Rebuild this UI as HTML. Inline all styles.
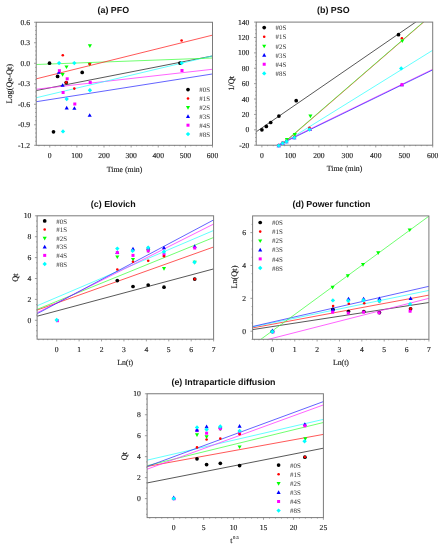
<!DOCTYPE html><html><head><meta charset="utf-8"><style>html,body{margin:0;padding:0;background:#fff;}svg{display:block;filter:blur(0.35px);text-rendering:geometricPrecision;}</style></head><body>
<svg width="445" height="550" viewBox="0 0 445 550">
<rect width="445" height="550" fill="#fff"/>
<clipPath id="clipa"><rect x="36.2" y="22.25" width="176.3" height="123.05000000000001"/></clipPath>
<g clip-path="url(#clipa)" stroke-width="0.75" fill="none">
<line x1="31.20" y1="91.52" x2="217.50" y2="54.98" stroke="#202020"/>
<line x1="31.20" y1="89.79" x2="217.50" y2="68.71" stroke="#ff30ff"/>
<line x1="31.20" y1="98.94" x2="217.50" y2="54.66" stroke="#30ffff"/>
<line x1="31.20" y1="102.52" x2="217.50" y2="73.18" stroke="#3030ff"/>
<line x1="31.20" y1="64.69" x2="217.50" y2="57.81" stroke="#40ff40"/>
<line x1="31.20" y1="80.09" x2="217.50" y2="33.91" stroke="#ff2020"/>
</g>
<rect x="36.2" y="22.25" width="176.3" height="123.05000000000001" fill="none" stroke="#7a7a7a" stroke-width="1.0"/>
<path d="M49.76,145.3 v2.2 M76.88,145.3 v2.2 M104.01,145.3 v2.2 M131.13,145.3 v2.2 M158.25,145.3 v2.2 M185.38,145.3 v2.2 M212.50,145.3 v2.2 M38.91,145.3 v1.0 M44.34,145.3 v1.0 M55.19,145.3 v1.0 M60.61,145.3 v1.0 M66.04,145.3 v1.0 M71.46,145.3 v1.0 M82.31,145.3 v1.0 M87.73,145.3 v1.0 M93.16,145.3 v1.0 M98.58,145.3 v1.0 M109.43,145.3 v1.0 M114.86,145.3 v1.0 M120.28,145.3 v1.0 M125.71,145.3 v1.0 M136.56,145.3 v1.0 M141.98,145.3 v1.0 M147.40,145.3 v1.0 M152.83,145.3 v1.0 M163.68,145.3 v1.0 M169.10,145.3 v1.0 M174.53,145.3 v1.0 M179.95,145.3 v1.0 M190.80,145.3 v1.0 M196.23,145.3 v1.0 M201.65,145.3 v1.0 M207.08,145.3 v1.0 M36.2,22.25 h-2.2 M36.2,42.76 h-2.2 M36.2,63.27 h-2.2 M36.2,83.78 h-2.2 M36.2,104.28 h-2.2 M36.2,124.79 h-2.2 M36.2,145.30 h-2.2 M36.2,26.35 h-1.0 M36.2,30.45 h-1.0 M36.2,34.55 h-1.0 M36.2,38.66 h-1.0 M36.2,46.86 h-1.0 M36.2,50.96 h-1.0 M36.2,55.06 h-1.0 M36.2,59.17 h-1.0 M36.2,67.37 h-1.0 M36.2,71.47 h-1.0 M36.2,75.57 h-1.0 M36.2,79.67 h-1.0 M36.2,87.88 h-1.0 M36.2,91.98 h-1.0 M36.2,96.08 h-1.0 M36.2,100.18 h-1.0 M36.2,108.39 h-1.0 M36.2,112.49 h-1.0 M36.2,116.59 h-1.0 M36.2,120.69 h-1.0 M36.2,128.89 h-1.0 M36.2,133.00 h-1.0 M36.2,137.10 h-1.0 M36.2,141.20 h-1.0" stroke="#7a7a7a" stroke-width="0.7" fill="none"/>
<g font-family='"Liberation Serif", serif' font-size="7.6" fill="#222" stroke="#222" stroke-width="0.15">
<text x="49.76" y="158.10" text-anchor="middle">0</text>
<text x="76.88" y="158.10" text-anchor="middle">100</text>
<text x="104.01" y="158.10" text-anchor="middle">200</text>
<text x="131.13" y="158.10" text-anchor="middle">300</text>
<text x="158.25" y="158.10" text-anchor="middle">400</text>
<text x="185.38" y="158.10" text-anchor="middle">500</text>
<text x="212.50" y="158.10" text-anchor="middle">600</text>
<text x="30.00" y="24.85" text-anchor="end">0.6</text>
<text x="30.00" y="45.36" text-anchor="end">0.3</text>
<text x="30.00" y="65.87" text-anchor="end">0.0</text>
<text x="30.00" y="86.38" text-anchor="end">-0.3</text>
<text x="30.00" y="106.88" text-anchor="end">-0.6</text>
<text x="30.00" y="127.39" text-anchor="end">-0.9</text>
<text x="30.00" y="147.90" text-anchor="end">-1.2</text>
</g>
<text x="124.60" y="171.50" text-anchor="middle" font-family='"Liberation Serif", serif' font-size="7.8" fill="#222" stroke="#222" stroke-width="0.15">Time (min)</text>
<text transform="translate(12.20,83.80) rotate(-90)" text-anchor="middle" font-family='"Liberation Serif", serif' font-size="8.3" fill="#222" stroke="#222" stroke-width="0.15">Log(Qe-Qt)</text>
<text x="113.30" y="13.00" text-anchor="middle" font-family='"Liberation Sans", sans-serif' font-weight="bold" font-size="8.9" fill="#111">(a) PFO</text>
<g>
<circle cx="49.50" cy="63.20" r="1.85" fill="#000000"/>
<circle cx="53.50" cy="131.80" r="1.85" fill="#000000"/>
<circle cx="57.60" cy="76.40" r="1.85" fill="#000000"/>
<circle cx="66.20" cy="82.60" r="1.85" fill="#000000"/>
<circle cx="82.20" cy="72.40" r="1.85" fill="#000000"/>
<circle cx="180.00" cy="63.10" r="1.85" fill="#000000"/>
<path d="M56.85,73.84 L60.95,73.84 L58.90,70.15 Z" fill="#0000ff"/>
<path d="M60.55,86.84 L64.65,86.84 L62.60,83.15 Z" fill="#0000ff"/>
<path d="M64.65,109.44 L68.75,109.44 L66.70,105.75 Z" fill="#0000ff"/>
<path d="M72.35,109.84 L76.45,109.84 L74.40,106.15 Z" fill="#0000ff"/>
<path d="M87.65,116.84 L91.75,116.84 L89.70,113.15 Z" fill="#0000ff"/>
<path d="M60.55,73.01 L64.65,73.01 L62.60,76.70 Z" fill="#00ff00"/>
<path d="M64.45,65.41 L68.55,65.41 L66.50,69.10 Z" fill="#00ff00"/>
<path d="M87.85,44.31 L91.95,44.31 L89.90,48.00 Z" fill="#00ff00"/>
<path d="M87.65,62.71 L91.75,62.71 L89.70,66.40 Z" fill="#00ff00"/>
<rect x="57.90" y="69.20" width="3.00" height="3.00" fill="#ff00ff"/>
<rect x="65.70" y="77.30" width="3.00" height="3.00" fill="#ff00ff"/>
<rect x="61.60" y="91.00" width="3.00" height="3.00" fill="#ff00ff"/>
<rect x="73.30" y="102.50" width="3.00" height="3.00" fill="#ff00ff"/>
<rect x="88.70" y="80.90" width="3.00" height="3.00" fill="#ff00ff"/>
<rect x="180.50" y="69.00" width="3.00" height="3.00" fill="#ff00ff"/>
<path d="M59.10,60.90 L61.30,63.10 L59.10,65.30 L56.90,63.10 Z" fill="#00ffff"/>
<path d="M74.30,60.90 L76.50,63.10 L74.30,65.30 L72.10,63.10 Z" fill="#00ffff"/>
<path d="M63.00,129.20 L65.20,131.40 L63.00,133.60 L60.80,131.40 Z" fill="#00ffff"/>
<path d="M66.70,96.80 L68.90,99.00 L66.70,101.20 L64.50,99.00 Z" fill="#00ffff"/>
<path d="M89.90,88.00 L92.10,90.20 L89.90,92.40 L87.70,90.20 Z" fill="#00ffff"/>
<path d="M181.60,60.90 L183.80,63.10 L181.60,65.30 L179.40,63.10 Z" fill="#00ffff"/>
<circle cx="62.80" cy="55.30" r="1.30" fill="#ff0000"/>
<circle cx="89.70" cy="64.00" r="1.30" fill="#ff0000"/>
<circle cx="66.20" cy="82.40" r="1.30" fill="#ff0000"/>
<circle cx="74.30" cy="88.60" r="1.30" fill="#ff0000"/>
<circle cx="181.60" cy="40.50" r="1.30" fill="#ff0000"/>
</g>
<circle cx="188.00" cy="89.60" r="1.85" fill="#000000"/>
<text transform="translate(199.30,92.20) scale(0.25)" font-family='"Liberation Serif", serif' font-size="27.60" fill="#333">#0S</text>
<circle cx="188.00" cy="98.50" r="1.30" fill="#ff0000"/>
<text transform="translate(199.30,101.10) scale(0.25)" font-family='"Liberation Serif", serif' font-size="27.60" fill="#333">#1S</text>
<path d="M185.95,106.11 L190.05,106.11 L188.00,109.80 Z" fill="#00ff00"/>
<text transform="translate(199.30,110.00) scale(0.25)" font-family='"Liberation Serif", serif' font-size="27.60" fill="#333">#2S</text>
<path d="M185.95,117.94 L190.05,117.94 L188.00,114.25 Z" fill="#0000ff"/>
<text transform="translate(199.30,118.90) scale(0.25)" font-family='"Liberation Serif", serif' font-size="27.60" fill="#333">#3S</text>
<rect x="186.50" y="123.70" width="3.00" height="3.00" fill="#ff00ff"/>
<text transform="translate(199.30,127.80) scale(0.25)" font-family='"Liberation Serif", serif' font-size="27.60" fill="#333">#4S</text>
<path d="M188.00,131.90 L190.20,134.10 L188.00,136.30 L185.80,134.10 Z" fill="#00ffff"/>
<text transform="translate(199.30,136.70) scale(0.25)" font-family='"Liberation Serif", serif' font-size="27.60" fill="#333">#8S</text>
<clipPath id="clipb"><rect x="256.2" y="22.1" width="176.5" height="123.1"/></clipPath>
<g clip-path="url(#clipb)" stroke-width="0.75" fill="none">
<line x1="251.20" y1="135.25" x2="437.70" y2="6.97" stroke="#202020"/>
<line x1="251.20" y1="162.87" x2="437.70" y2="47.17" stroke="#30ffff"/>
<line x1="251.20" y1="157.74" x2="437.70" y2="66.87" stroke="#ff30ff"/>
<line x1="251.20" y1="158.34" x2="437.70" y2="67.47" stroke="#3030ff"/>
<line x1="251.20" y1="171.24" x2="437.70" y2="9.90" stroke="#ff2020"/>
<line x1="251.20" y1="170.76" x2="437.70" y2="9.57" stroke="#40ff40"/>
</g>
<rect x="256.2" y="22.1" width="176.5" height="123.1" fill="none" stroke="#7a7a7a" stroke-width="1.0"/>
<path d="M261.89,145.2 v2.2 M290.36,145.2 v2.2 M318.83,145.2 v2.2 M347.30,145.2 v2.2 M375.76,145.2 v2.2 M404.23,145.2 v2.2 M432.70,145.2 v2.2 M267.59,145.2 v1.0 M273.28,145.2 v1.0 M278.97,145.2 v1.0 M284.67,145.2 v1.0 M296.05,145.2 v1.0 M301.75,145.2 v1.0 M307.44,145.2 v1.0 M313.14,145.2 v1.0 M324.52,145.2 v1.0 M330.22,145.2 v1.0 M335.91,145.2 v1.0 M341.60,145.2 v1.0 M352.99,145.2 v1.0 M358.68,145.2 v1.0 M364.38,145.2 v1.0 M370.07,145.2 v1.0 M381.46,145.2 v1.0 M387.15,145.2 v1.0 M392.85,145.2 v1.0 M398.54,145.2 v1.0 M409.93,145.2 v1.0 M415.62,145.2 v1.0 M421.31,145.2 v1.0 M427.01,145.2 v1.0 M256.2,22.10 h-2.2 M256.2,37.49 h-2.2 M256.2,52.88 h-2.2 M256.2,68.26 h-2.2 M256.2,83.65 h-2.2 M256.2,99.04 h-2.2 M256.2,114.43 h-2.2 M256.2,129.81 h-2.2 M256.2,145.20 h-2.2 M256.2,25.95 h-1.0 M256.2,29.79 h-1.0 M256.2,33.64 h-1.0 M256.2,41.33 h-1.0 M256.2,45.18 h-1.0 M256.2,49.03 h-1.0 M256.2,56.72 h-1.0 M256.2,60.57 h-1.0 M256.2,64.42 h-1.0 M256.2,72.11 h-1.0 M256.2,75.96 h-1.0 M256.2,79.80 h-1.0 M256.2,87.50 h-1.0 M256.2,91.34 h-1.0 M256.2,95.19 h-1.0 M256.2,102.88 h-1.0 M256.2,106.73 h-1.0 M256.2,110.58 h-1.0 M256.2,118.27 h-1.0 M256.2,122.12 h-1.0 M256.2,125.97 h-1.0 M256.2,133.66 h-1.0 M256.2,137.51 h-1.0 M256.2,141.35 h-1.0" stroke="#7a7a7a" stroke-width="0.7" fill="none"/>
<g font-family='"Liberation Serif", serif' font-size="7.6" fill="#222" stroke="#222" stroke-width="0.15">
<text x="261.89" y="158.00" text-anchor="middle">0</text>
<text x="290.36" y="158.00" text-anchor="middle">100</text>
<text x="318.83" y="158.00" text-anchor="middle">200</text>
<text x="347.30" y="158.00" text-anchor="middle">300</text>
<text x="375.76" y="158.00" text-anchor="middle">400</text>
<text x="404.23" y="158.00" text-anchor="middle">500</text>
<text x="432.70" y="158.00" text-anchor="middle">600</text>
<text x="249.40" y="24.70" text-anchor="end">140</text>
<text x="249.40" y="40.09" text-anchor="end">120</text>
<text x="249.40" y="55.48" text-anchor="end">100</text>
<text x="249.40" y="70.86" text-anchor="end">80</text>
<text x="249.40" y="86.25" text-anchor="end">60</text>
<text x="249.40" y="101.64" text-anchor="end">40</text>
<text x="249.40" y="117.03" text-anchor="end">20</text>
<text x="249.40" y="132.41" text-anchor="end">0</text>
<text x="249.40" y="147.80" text-anchor="end">-20</text>
</g>
<text x="344.60" y="171.30" text-anchor="middle" font-family='"Liberation Serif", serif' font-size="7.8" fill="#222" stroke="#222" stroke-width="0.15">Time (min)</text>
<text transform="translate(233.60,83.40) rotate(-90)" text-anchor="middle" font-family='"Liberation Serif", serif' font-size="8.3" fill="#222" stroke="#222" stroke-width="0.15">1/Qt</text>
<text x="333.30" y="13.00" text-anchor="middle" font-family='"Liberation Sans", sans-serif' font-weight="bold" font-size="8.9" fill="#111">(b) PSO</text>
<g>
<circle cx="261.90" cy="129.80" r="1.85" fill="#000000"/>
<circle cx="266.30" cy="126.40" r="1.85" fill="#000000"/>
<circle cx="270.70" cy="122.50" r="1.85" fill="#000000"/>
<circle cx="278.90" cy="116.10" r="1.85" fill="#000000"/>
<circle cx="296.20" cy="100.70" r="1.85" fill="#000000"/>
<circle cx="398.50" cy="34.70" r="1.85" fill="#000000"/>
<path d="M276.65,147.24 L280.75,147.24 L278.70,143.55 Z" fill="#0000ff"/>
<path d="M280.55,144.94 L284.65,144.94 L282.60,141.25 Z" fill="#0000ff"/>
<path d="M284.45,143.14 L288.55,143.14 L286.50,139.45 Z" fill="#0000ff"/>
<path d="M292.35,139.24 L296.45,139.24 L294.40,135.55 Z" fill="#0000ff"/>
<path d="M307.75,131.04 L311.85,131.04 L309.80,127.35 Z" fill="#0000ff"/>
<path d="M399.85,86.34 L403.95,86.34 L401.90,82.65 Z" fill="#0000ff"/>
<rect x="277.20" y="144.10" width="3.00" height="3.00" fill="#ff00ff"/>
<rect x="281.10" y="141.80" width="3.00" height="3.00" fill="#ff00ff"/>
<rect x="285.00" y="140.00" width="3.00" height="3.00" fill="#ff00ff"/>
<rect x="292.90" y="136.10" width="3.00" height="3.00" fill="#ff00ff"/>
<rect x="308.30" y="127.90" width="3.00" height="3.00" fill="#ff00ff"/>
<rect x="400.40" y="83.20" width="3.00" height="3.00" fill="#ff00ff"/>
<circle cx="278.70" cy="145.00" r="1.30" fill="#ff0000"/>
<circle cx="282.60" cy="142.60" r="1.30" fill="#ff0000"/>
<circle cx="286.50" cy="140.50" r="1.30" fill="#ff0000"/>
<circle cx="294.40" cy="136.50" r="1.30" fill="#ff0000"/>
<circle cx="309.50" cy="127.80" r="1.30" fill="#ff0000"/>
<circle cx="401.90" cy="38.30" r="1.30" fill="#ff0000"/>
<path d="M284.85,137.91 L288.95,137.91 L286.90,141.60 Z" fill="#00ff00"/>
<path d="M292.75,133.11 L296.85,133.11 L294.80,136.80 Z" fill="#00ff00"/>
<path d="M308.35,114.61 L312.45,114.61 L310.40,118.30 Z" fill="#00ff00"/>
<path d="M400.25,39.41 L404.35,39.41 L402.30,43.10 Z" fill="#00ff00"/>
<path d="M278.70,143.40 L280.90,145.60 L278.70,147.80 L276.50,145.60 Z" fill="#00ffff"/>
<path d="M282.60,141.10 L284.80,143.30 L282.60,145.50 L280.40,143.30 Z" fill="#00ffff"/>
<path d="M286.50,139.30 L288.70,141.50 L286.50,143.70 L284.30,141.50 Z" fill="#00ffff"/>
<path d="M294.40,135.40 L296.60,137.60 L294.40,139.80 L292.20,137.60 Z" fill="#00ffff"/>
<path d="M309.50,127.40 L311.70,129.60 L309.50,131.80 L307.30,129.60 Z" fill="#00ffff"/>
<path d="M401.20,66.20 L403.40,68.40 L401.20,70.60 L399.00,68.40 Z" fill="#00ffff"/>
</g>
<circle cx="264.20" cy="27.60" r="1.85" fill="#000000"/>
<text transform="translate(275.60,30.20) scale(0.25)" font-family='"Liberation Serif", serif' font-size="27.60" fill="#333">#0S</text>
<circle cx="264.20" cy="36.76" r="1.30" fill="#ff0000"/>
<text transform="translate(275.60,39.36) scale(0.25)" font-family='"Liberation Serif", serif' font-size="27.60" fill="#333">#1S</text>
<path d="M262.15,44.63 L266.25,44.63 L264.20,48.32 Z" fill="#00ff00"/>
<text transform="translate(275.60,48.52) scale(0.25)" font-family='"Liberation Serif", serif' font-size="27.60" fill="#333">#2S</text>
<path d="M262.15,56.72 L266.25,56.72 L264.20,53.03 Z" fill="#0000ff"/>
<text transform="translate(275.60,57.68) scale(0.25)" font-family='"Liberation Serif", serif' font-size="27.60" fill="#333">#3S</text>
<rect x="262.70" y="62.74" width="3.00" height="3.00" fill="#ff00ff"/>
<text transform="translate(275.60,66.84) scale(0.25)" font-family='"Liberation Serif", serif' font-size="27.60" fill="#333">#4S</text>
<path d="M264.20,71.20 L266.40,73.40 L264.20,75.60 L262.00,73.40 Z" fill="#00ffff"/>
<text transform="translate(275.60,76.00) scale(0.25)" font-family='"Liberation Serif", serif' font-size="27.60" fill="#333">#8S</text>
<clipPath id="clipc"><rect x="37.1" y="215.8" width="176.5" height="123.39999999999998"/></clipPath>
<g clip-path="url(#clipc)" stroke-width="0.75" fill="none">
<line x1="32.10" y1="317.56" x2="218.60" y2="267.58" stroke="#202020"/>
<line x1="32.10" y1="311.88" x2="218.60" y2="245.21" stroke="#ff2020"/>
<line x1="32.10" y1="311.41" x2="218.60" y2="235.44" stroke="#40ff40"/>
<line x1="32.10" y1="307.91" x2="218.60" y2="228.34" stroke="#30ffff"/>
<line x1="32.10" y1="315.26" x2="218.60" y2="221.54" stroke="#ff30ff"/>
<line x1="32.10" y1="316.40" x2="218.60" y2="217.28" stroke="#3030ff"/>
</g>
<rect x="37.1" y="215.8" width="176.5" height="123.39999999999998" fill="none" stroke="#7a7a7a" stroke-width="1.0"/>
<path d="M56.70,339.2 v2.2 M79.11,339.2 v2.2 M101.53,339.2 v2.2 M123.94,339.2 v2.2 M146.36,339.2 v2.2 M168.77,339.2 v2.2 M191.19,339.2 v2.2 M213.60,339.2 v2.2 M38.77,339.2 v1.0 M43.25,339.2 v1.0 M47.73,339.2 v1.0 M52.22,339.2 v1.0 M61.18,339.2 v1.0 M65.67,339.2 v1.0 M70.15,339.2 v1.0 M74.63,339.2 v1.0 M83.60,339.2 v1.0 M88.08,339.2 v1.0 M92.56,339.2 v1.0 M97.05,339.2 v1.0 M106.01,339.2 v1.0 M110.49,339.2 v1.0 M114.98,339.2 v1.0 M119.46,339.2 v1.0 M128.43,339.2 v1.0 M132.91,339.2 v1.0 M137.39,339.2 v1.0 M141.87,339.2 v1.0 M150.84,339.2 v1.0 M155.32,339.2 v1.0 M159.81,339.2 v1.0 M164.29,339.2 v1.0 M173.25,339.2 v1.0 M177.74,339.2 v1.0 M182.22,339.2 v1.0 M186.70,339.2 v1.0 M195.67,339.2 v1.0 M200.15,339.2 v1.0 M204.63,339.2 v1.0 M209.12,339.2 v1.0 M37.1,320.30 h-2.2 M37.1,299.40 h-2.2 M37.1,278.50 h-2.2 M37.1,257.60 h-2.2 M37.1,236.70 h-2.2 M37.1,215.80 h-2.2 M37.1,335.98 h-1.0 M37.1,330.75 h-1.0 M37.1,325.53 h-1.0 M37.1,315.07 h-1.0 M37.1,309.85 h-1.0 M37.1,304.62 h-1.0 M37.1,294.18 h-1.0 M37.1,288.95 h-1.0 M37.1,283.73 h-1.0 M37.1,273.28 h-1.0 M37.1,268.05 h-1.0 M37.1,262.82 h-1.0 M37.1,252.38 h-1.0 M37.1,247.15 h-1.0 M37.1,241.93 h-1.0 M37.1,231.48 h-1.0 M37.1,226.25 h-1.0 M37.1,221.03 h-1.0" stroke="#7a7a7a" stroke-width="0.7" fill="none"/>
<g font-family='"Liberation Serif", serif' font-size="7.6" fill="#222" stroke="#222" stroke-width="0.15">
<text x="56.70" y="352.00" text-anchor="middle">0</text>
<text x="79.11" y="352.00" text-anchor="middle">1</text>
<text x="101.53" y="352.00" text-anchor="middle">2</text>
<text x="123.94" y="352.00" text-anchor="middle">3</text>
<text x="146.36" y="352.00" text-anchor="middle">4</text>
<text x="168.77" y="352.00" text-anchor="middle">5</text>
<text x="191.19" y="352.00" text-anchor="middle">6</text>
<text x="213.60" y="352.00" text-anchor="middle">7</text>
<text x="31.30" y="322.90" text-anchor="end">0</text>
<text x="31.30" y="302.00" text-anchor="end">2</text>
<text x="31.30" y="281.10" text-anchor="end">4</text>
<text x="31.30" y="260.20" text-anchor="end">6</text>
<text x="31.30" y="239.30" text-anchor="end">8</text>
<text x="31.30" y="218.40" text-anchor="end">10</text>
</g>
<text x="125.20" y="364.60" text-anchor="middle" font-family='"Liberation Serif", serif' font-size="7.8" fill="#222" stroke="#222" stroke-width="0.15">Ln(t)</text>
<text transform="translate(17.60,277.70) rotate(-90)" text-anchor="middle" font-family='"Liberation Serif", serif' font-size="8.3" fill="#222" stroke="#222" stroke-width="0.15">Qt</text>
<text x="113.30" y="206.60" text-anchor="middle" font-family='"Liberation Sans", sans-serif' font-weight="bold" font-size="8.9" fill="#111">(c) Elovich</text>
<g>
<rect x="55.90" y="319.20" width="3.00" height="3.00" fill="#ff00ff"/>
<path d="M56.70,317.80 L58.90,320.00 L56.70,322.20 L54.50,320.00 Z" fill="#00ffff"/>
<circle cx="117.30" cy="280.60" r="1.85" fill="#000000"/>
<circle cx="117.30" cy="269.50" r="1.30" fill="#ff0000"/>
<path d="M115.25,254.04 L119.35,254.04 L117.30,250.35 Z" fill="#0000ff"/>
<rect x="115.80" y="251.10" width="3.00" height="3.00" fill="#ff00ff"/>
<path d="M115.25,255.41 L119.35,255.41 L117.30,259.10 Z" fill="#00ff00"/>
<path d="M117.30,246.40 L119.50,248.60 L117.30,250.80 L115.10,248.60 Z" fill="#00ffff"/>
<circle cx="133.00" cy="286.50" r="1.85" fill="#000000"/>
<path d="M130.95,250.54 L135.05,250.54 L133.00,246.85 Z" fill="#0000ff"/>
<path d="M130.95,257.91 L135.05,257.91 L133.00,261.60 Z" fill="#00ff00"/>
<rect x="131.50" y="253.90" width="3.00" height="3.00" fill="#ff00ff"/>
<circle cx="133.00" cy="261.70" r="1.30" fill="#ff0000"/>
<path d="M132.60,248.70 L134.80,250.90 L132.60,253.10 L130.40,250.90 Z" fill="#00ffff"/>
<circle cx="148.20" cy="285.00" r="1.85" fill="#000000"/>
<path d="M146.15,249.61 L150.25,249.61 L148.20,253.30 Z" fill="#00ff00"/>
<path d="M146.15,249.44 L150.25,249.44 L148.20,245.75 Z" fill="#0000ff"/>
<rect x="146.70" y="249.40" width="3.00" height="3.00" fill="#ff00ff"/>
<circle cx="148.20" cy="260.70" r="1.30" fill="#ff0000"/>
<path d="M148.20,245.40 L150.40,247.60 L148.20,249.80 L146.00,247.60 Z" fill="#00ffff"/>
<circle cx="164.00" cy="287.20" r="1.85" fill="#000000"/>
<path d="M161.95,249.34 L166.05,249.34 L164.00,245.65 Z" fill="#0000ff"/>
<rect x="162.50" y="253.00" width="3.00" height="3.00" fill="#ff00ff"/>
<circle cx="164.00" cy="256.30" r="1.30" fill="#ff0000"/>
<path d="M161.95,267.11 L166.05,267.11 L164.00,270.80 Z" fill="#00ff00"/>
<path d="M164.00,249.50 L166.20,251.70 L164.00,253.90 L161.80,251.70 Z" fill="#00ffff"/>
<circle cx="194.70" cy="279.10" r="1.85" fill="#000000"/>
<circle cx="194.70" cy="279.10" r="1.30" fill="#ff0000"/>
<path d="M192.65,248.04 L196.75,248.04 L194.70,244.35 Z" fill="#0000ff"/>
<rect x="193.20" y="246.50" width="3.00" height="3.00" fill="#ff00ff"/>
<path d="M192.65,260.71 L196.75,260.71 L194.70,264.40 Z" fill="#00ff00"/>
<path d="M194.50,260.00 L196.70,262.20 L194.50,264.40 L192.30,262.20 Z" fill="#00ffff"/>
</g>
<circle cx="44.70" cy="220.90" r="1.85" fill="#000000"/>
<text transform="translate(56.30,223.50) scale(0.25)" font-family='"Liberation Serif", serif' font-size="27.60" fill="#333">#0S</text>
<circle cx="44.70" cy="229.52" r="1.30" fill="#ff0000"/>
<text transform="translate(56.30,232.12) scale(0.25)" font-family='"Liberation Serif", serif' font-size="27.60" fill="#333">#1S</text>
<path d="M42.65,236.85 L46.75,236.85 L44.70,240.54 Z" fill="#00ff00"/>
<text transform="translate(56.30,240.74) scale(0.25)" font-family='"Liberation Serif", serif' font-size="27.60" fill="#333">#2S</text>
<path d="M42.65,248.40 L46.75,248.40 L44.70,244.71 Z" fill="#0000ff"/>
<text transform="translate(56.30,249.36) scale(0.25)" font-family='"Liberation Serif", serif' font-size="27.60" fill="#333">#3S</text>
<rect x="43.20" y="253.88" width="3.00" height="3.00" fill="#ff00ff"/>
<text transform="translate(56.30,257.98) scale(0.25)" font-family='"Liberation Serif", serif' font-size="27.60" fill="#333">#4S</text>
<path d="M44.70,261.80 L46.90,264.00 L44.70,266.20 L42.50,264.00 Z" fill="#00ffff"/>
<text transform="translate(56.30,266.60) scale(0.25)" font-family='"Liberation Serif", serif' font-size="27.60" fill="#333">#8S</text>
<clipPath id="clipd"><rect x="252.6" y="215.9" width="176.29999999999998" height="123.4"/></clipPath>
<g clip-path="url(#clipd)" stroke-width="0.75" fill="none">
<line x1="247.60" y1="330.38" x2="433.90" y2="301.75" stroke="#202020"/>
<line x1="247.60" y1="344.65" x2="433.90" y2="297.05" stroke="#ff30ff"/>
<line x1="247.60" y1="328.85" x2="433.90" y2="294.19" stroke="#ff2020"/>
<line x1="247.60" y1="327.96" x2="433.90" y2="289.39" stroke="#30ffff"/>
<line x1="247.60" y1="327.66" x2="433.90" y2="285.18" stroke="#3030ff"/>
<line x1="247.60" y1="349.01" x2="433.90" y2="212.51" stroke="#40ff40"/>
</g>
<rect x="252.6" y="215.9" width="176.29999999999998" height="123.4" fill="none" stroke="#7a7a7a" stroke-width="1.0"/>
<path d="M272.40,339.3 v2.2 M294.76,339.3 v2.2 M317.11,339.3 v2.2 M339.47,339.3 v2.2 M361.83,339.3 v2.2 M384.19,339.3 v2.2 M406.54,339.3 v2.2 M428.90,339.3 v2.2 M254.51,339.3 v1.0 M258.99,339.3 v1.0 M263.46,339.3 v1.0 M267.93,339.3 v1.0 M276.87,339.3 v1.0 M281.34,339.3 v1.0 M285.81,339.3 v1.0 M290.29,339.3 v1.0 M299.23,339.3 v1.0 M303.70,339.3 v1.0 M308.17,339.3 v1.0 M312.64,339.3 v1.0 M321.59,339.3 v1.0 M326.06,339.3 v1.0 M330.53,339.3 v1.0 M335.00,339.3 v1.0 M343.94,339.3 v1.0 M348.41,339.3 v1.0 M352.89,339.3 v1.0 M357.36,339.3 v1.0 M366.30,339.3 v1.0 M370.77,339.3 v1.0 M375.24,339.3 v1.0 M379.71,339.3 v1.0 M388.66,339.3 v1.0 M393.13,339.3 v1.0 M397.60,339.3 v1.0 M402.07,339.3 v1.0 M411.01,339.3 v1.0 M415.49,339.3 v1.0 M419.96,339.3 v1.0 M424.43,339.3 v1.0 M252.6,331.20 h-2.2 M252.6,298.33 h-2.2 M252.6,265.47 h-2.2 M252.6,232.60 h-2.2 M252.6,339.42 h-1.0 M252.6,322.98 h-1.0 M252.6,314.77 h-1.0 M252.6,306.55 h-1.0 M252.6,290.12 h-1.0 M252.6,281.90 h-1.0 M252.6,273.68 h-1.0 M252.6,257.25 h-1.0 M252.6,249.03 h-1.0 M252.6,240.82 h-1.0 M252.6,224.38 h-1.0" stroke="#7a7a7a" stroke-width="0.7" fill="none"/>
<g font-family='"Liberation Serif", serif' font-size="7.6" fill="#222" stroke="#222" stroke-width="0.15">
<text x="272.40" y="352.10" text-anchor="middle">0</text>
<text x="294.76" y="352.10" text-anchor="middle">1</text>
<text x="317.11" y="352.10" text-anchor="middle">2</text>
<text x="339.47" y="352.10" text-anchor="middle">3</text>
<text x="361.83" y="352.10" text-anchor="middle">4</text>
<text x="384.19" y="352.10" text-anchor="middle">5</text>
<text x="406.54" y="352.10" text-anchor="middle">6</text>
<text x="428.90" y="352.10" text-anchor="middle">7</text>
<text x="246.00" y="333.80" text-anchor="end">0</text>
<text x="246.00" y="300.93" text-anchor="end">2</text>
<text x="246.00" y="268.07" text-anchor="end">4</text>
<text x="246.00" y="235.20" text-anchor="end">6</text>
</g>
<text x="340.90" y="364.60" text-anchor="middle" font-family='"Liberation Serif", serif' font-size="7.8" fill="#222" stroke="#222" stroke-width="0.15">Ln(t)</text>
<text transform="translate(237.00,277.10) rotate(-90)" text-anchor="middle" font-family='"Liberation Serif", serif' font-size="8.3" fill="#222" stroke="#222" stroke-width="0.15">Ln(Qt)</text>
<text x="331.50" y="206.50" text-anchor="middle" font-family='"Liberation Sans", sans-serif' font-weight="bold" font-size="8.9" fill="#111">(d) Power function</text>
<g>
<circle cx="272.40" cy="331.50" r="1.85" fill="#000000"/>
<circle cx="272.40" cy="331.50" r="1.30" fill="#ff0000"/>
<path d="M270.35,330.21 L274.45,330.21 L272.40,333.90 Z" fill="#00ff00"/>
<rect x="271.40" y="330.50" width="3.00" height="3.00" fill="#ff00ff"/>
<path d="M270.35,332.24 L274.45,332.24 L272.40,328.55 Z" fill="#0000ff"/>
<path d="M272.40,329.60 L274.60,331.80 L272.40,334.00 L270.20,331.80 Z" fill="#00ffff"/>
<path d="M330.55,285.81 L334.65,285.81 L332.60,289.50 Z" fill="#00ff00"/>
<path d="M345.75,274.31 L349.85,274.31 L347.80,278.00 Z" fill="#00ff00"/>
<path d="M360.95,263.01 L365.05,263.01 L363.00,266.70 Z" fill="#00ff00"/>
<path d="M376.15,251.31 L380.25,251.31 L378.20,255.00 Z" fill="#00ff00"/>
<path d="M407.65,228.41 L411.75,228.41 L409.70,232.10 Z" fill="#00ff00"/>
<circle cx="332.90" cy="309.30" r="1.85" fill="#000000"/>
<path d="M330.85,311.24 L334.95,311.24 L332.90,307.55 Z" fill="#0000ff"/>
<rect x="331.10" y="310.60" width="3.00" height="3.00" fill="#ff00ff"/>
<circle cx="333.10" cy="306.00" r="1.30" fill="#ff0000"/>
<path d="M332.90,298.20 L335.10,300.40 L332.90,302.60 L330.70,300.40 Z" fill="#00ffff"/>
<circle cx="348.50" cy="311.50" r="1.85" fill="#000000"/>
<rect x="346.80" y="311.60" width="3.00" height="3.00" fill="#ff00ff"/>
<circle cx="348.80" cy="303.70" r="1.30" fill="#ff0000"/>
<path d="M346.45,300.34 L350.55,300.34 L348.50,296.65 Z" fill="#0000ff"/>
<path d="M348.20,298.50 L350.40,300.70 L348.20,302.90 L346.00,300.70 Z" fill="#00ffff"/>
<circle cx="363.80" cy="311.50" r="1.85" fill="#000000"/>
<rect x="362.10" y="310.60" width="3.00" height="3.00" fill="#ff00ff"/>
<circle cx="364.20" cy="303.20" r="1.30" fill="#ff0000"/>
<path d="M361.55,300.34 L365.65,300.34 L363.60,296.65 Z" fill="#0000ff"/>
<path d="M363.40,298.00 L365.60,300.20 L363.40,302.40 L361.20,300.20 Z" fill="#00ffff"/>
<circle cx="379.40" cy="312.60" r="1.85" fill="#000000"/>
<rect x="377.60" y="311.30" width="3.00" height="3.00" fill="#ff00ff"/>
<circle cx="379.40" cy="301.60" r="1.30" fill="#ff0000"/>
<path d="M377.35,300.24 L381.45,300.24 L379.40,296.55 Z" fill="#0000ff"/>
<path d="M379.40,298.80 L381.60,301.00 L379.40,303.20 L377.20,301.00 Z" fill="#00ffff"/>
<circle cx="410.60" cy="308.80" r="1.85" fill="#000000"/>
<rect x="408.60" y="309.70" width="3.00" height="3.00" fill="#ff00ff"/>
<circle cx="410.60" cy="308.60" r="1.30" fill="#ff0000"/>
<path d="M408.55,299.94 L412.65,299.94 L410.60,296.25 Z" fill="#0000ff"/>
<path d="M410.10,301.90 L412.30,304.10 L410.10,306.30 L407.90,304.10 Z" fill="#00ffff"/>
</g>
<circle cx="260.20" cy="222.50" r="1.85" fill="#000000"/>
<text transform="translate(272.00,225.10) scale(0.25)" font-family='"Liberation Serif", serif' font-size="27.60" fill="#333">#0S</text>
<circle cx="260.20" cy="231.60" r="1.30" fill="#ff0000"/>
<text transform="translate(272.00,234.20) scale(0.25)" font-family='"Liberation Serif", serif' font-size="27.60" fill="#333">#1S</text>
<path d="M258.15,239.41 L262.25,239.41 L260.20,243.10 Z" fill="#00ff00"/>
<text transform="translate(272.00,243.30) scale(0.25)" font-family='"Liberation Serif", serif' font-size="27.60" fill="#333">#2S</text>
<path d="M258.15,251.44 L262.25,251.44 L260.20,247.75 Z" fill="#0000ff"/>
<text transform="translate(272.00,252.40) scale(0.25)" font-family='"Liberation Serif", serif' font-size="27.60" fill="#333">#3S</text>
<rect x="258.70" y="257.40" width="3.00" height="3.00" fill="#ff00ff"/>
<text transform="translate(272.00,261.50) scale(0.25)" font-family='"Liberation Serif", serif' font-size="27.60" fill="#333">#4S</text>
<path d="M260.20,265.80 L262.40,268.00 L260.20,270.20 L258.00,268.00 Z" fill="#00ffff"/>
<text transform="translate(272.00,270.60) scale(0.25)" font-family='"Liberation Serif", serif' font-size="27.60" fill="#333">#8S</text>
<clipPath id="clipe"><rect x="147.1" y="393.75" width="176.29999999999998" height="123.85000000000002"/></clipPath>
<g clip-path="url(#clipe)" stroke-width="0.75" fill="none">
<line x1="142.10" y1="483.94" x2="328.40" y2="447.21" stroke="#202020"/>
<line x1="142.10" y1="467.36" x2="328.40" y2="433.49" stroke="#ff2020"/>
<line x1="142.10" y1="466.90" x2="328.40" y2="421.28" stroke="#40ff40"/>
<line x1="142.10" y1="461.33" x2="328.40" y2="418.24" stroke="#30ffff"/>
<line x1="142.10" y1="471.03" x2="328.40" y2="403.08" stroke="#ff30ff"/>
<line x1="142.10" y1="468.35" x2="328.40" y2="399.76" stroke="#3030ff"/>
</g>
<rect x="147.1" y="393.75" width="176.29999999999998" height="123.85000000000002" fill="none" stroke="#7a7a7a" stroke-width="1.0"/>
<path d="M173.70,517.6 v2.2 M203.64,517.6 v2.2 M233.58,517.6 v2.2 M263.52,517.6 v2.2 M293.46,517.6 v2.2 M323.40,517.6 v2.2 M149.75,517.6 v1.0 M155.74,517.6 v1.0 M161.72,517.6 v1.0 M167.71,517.6 v1.0 M179.69,517.6 v1.0 M185.68,517.6 v1.0 M191.66,517.6 v1.0 M197.65,517.6 v1.0 M209.63,517.6 v1.0 M215.62,517.6 v1.0 M221.60,517.6 v1.0 M227.59,517.6 v1.0 M239.57,517.6 v1.0 M245.56,517.6 v1.0 M251.54,517.6 v1.0 M257.53,517.6 v1.0 M269.51,517.6 v1.0 M275.50,517.6 v1.0 M281.48,517.6 v1.0 M287.47,517.6 v1.0 M299.45,517.6 v1.0 M305.44,517.6 v1.0 M311.42,517.6 v1.0 M317.41,517.6 v1.0 M147.1,498.60 h-2.2 M147.1,477.63 h-2.2 M147.1,456.66 h-2.2 M147.1,435.69 h-2.2 M147.1,414.72 h-2.2 M147.1,393.75 h-2.2 M147.1,514.33 h-1.0 M147.1,509.09 h-1.0 M147.1,503.84 h-1.0 M147.1,493.36 h-1.0 M147.1,488.12 h-1.0 M147.1,482.87 h-1.0 M147.1,472.39 h-1.0 M147.1,467.15 h-1.0 M147.1,461.90 h-1.0 M147.1,451.42 h-1.0 M147.1,446.18 h-1.0 M147.1,440.93 h-1.0 M147.1,430.45 h-1.0 M147.1,425.21 h-1.0 M147.1,419.96 h-1.0 M147.1,409.48 h-1.0 M147.1,404.24 h-1.0 M147.1,398.99 h-1.0" stroke="#7a7a7a" stroke-width="0.7" fill="none"/>
<g font-family='"Liberation Serif", serif' font-size="7.6" fill="#222" stroke="#222" stroke-width="0.15">
<text x="173.70" y="529.90" text-anchor="middle">0</text>
<text x="203.64" y="529.90" text-anchor="middle">5</text>
<text x="233.58" y="529.90" text-anchor="middle">10</text>
<text x="263.52" y="529.90" text-anchor="middle">15</text>
<text x="293.46" y="529.90" text-anchor="middle">20</text>
<text x="323.40" y="529.90" text-anchor="middle">25</text>
<text x="140.80" y="501.20" text-anchor="end">0</text>
<text x="140.80" y="480.23" text-anchor="end">2</text>
<text x="140.80" y="459.26" text-anchor="end">4</text>
<text x="140.80" y="438.29" text-anchor="end">6</text>
<text x="140.80" y="417.32" text-anchor="end">8</text>
<text x="140.80" y="396.35" text-anchor="end">10</text>
</g>
<text x="234.60" y="543.00" text-anchor="middle" font-family='"Liberation Serif", serif' font-size="7.8" fill="#222" stroke="#222" stroke-width="0.15">t<tspan font-size="4.6" dy="-3.6" dx="0.6" stroke-width="0.1">0.5</tspan></text>
<text transform="translate(127.30,456.10) rotate(-90)" text-anchor="middle" font-family='"Liberation Serif", serif' font-size="8.3" fill="#222" stroke="#222" stroke-width="0.15">Qt</text>
<text x="223.50" y="384.80" text-anchor="middle" font-family='"Liberation Sans", sans-serif' font-weight="bold" font-size="8.9" fill="#111">(e) Intraparticle diffusion</text>
<g>
<rect x="172.50" y="497.30" width="3.00" height="3.00" fill="#ff00ff"/>
<path d="M171.65,499.24 L175.75,499.24 L173.70,495.55 Z" fill="#0000ff"/>
<path d="M173.70,496.40 L175.90,498.60 L173.70,500.80 L171.50,498.60 Z" fill="#00ffff"/>
<circle cx="197.00" cy="458.80" r="1.85" fill="#000000"/>
<circle cx="197.00" cy="447.40" r="1.30" fill="#ff0000"/>
<path d="M194.95,433.21 L199.05,433.21 L197.00,436.90 Z" fill="#00ff00"/>
<rect x="195.50" y="429.10" width="3.00" height="3.00" fill="#ff00ff"/>
<path d="M194.95,431.44 L199.05,431.44 L197.00,427.75 Z" fill="#0000ff"/>
<path d="M197.00,425.20 L199.20,427.40 L197.00,429.60 L194.80,427.40 Z" fill="#00ffff"/>
<circle cx="206.60" cy="464.60" r="1.85" fill="#000000"/>
<circle cx="206.60" cy="439.50" r="1.30" fill="#ff0000"/>
<path d="M204.55,435.31 L208.65,435.31 L206.60,439.00 Z" fill="#00ff00"/>
<rect x="205.10" y="431.70" width="3.00" height="3.00" fill="#ff00ff"/>
<path d="M204.55,428.14 L208.65,428.14 L206.60,424.45 Z" fill="#0000ff"/>
<path d="M206.60,427.40 L208.80,429.60 L206.60,431.80 L204.40,429.60 Z" fill="#00ffff"/>
<circle cx="220.30" cy="463.30" r="1.85" fill="#000000"/>
<path d="M218.25,427.51 L222.35,427.51 L220.30,431.20 Z" fill="#00ff00"/>
<path d="M218.25,428.44 L222.35,428.44 L220.30,424.75 Z" fill="#0000ff"/>
<circle cx="220.30" cy="438.60" r="1.30" fill="#ff0000"/>
<rect x="218.80" y="427.30" width="3.00" height="3.00" fill="#ff00ff"/>
<path d="M220.30,424.30 L222.50,426.50 L220.30,428.70 L218.10,426.50 Z" fill="#00ffff"/>
<circle cx="239.60" cy="465.60" r="1.85" fill="#000000"/>
<path d="M237.55,445.41 L241.65,445.41 L239.60,449.10 Z" fill="#00ff00"/>
<rect x="238.10" y="431.00" width="3.00" height="3.00" fill="#ff00ff"/>
<circle cx="239.60" cy="434.30" r="1.30" fill="#ff0000"/>
<path d="M237.55,427.74 L241.65,427.74 L239.60,424.05 Z" fill="#0000ff"/>
<path d="M239.60,428.70 L241.80,430.90 L239.60,433.10 L237.40,430.90 Z" fill="#00ffff"/>
<circle cx="304.90" cy="457.20" r="1.85" fill="#000000"/>
<circle cx="304.90" cy="457.00" r="1.30" fill="#ff0000"/>
<path d="M302.85,425.84 L306.95,425.84 L304.90,422.15 Z" fill="#0000ff"/>
<rect x="303.40" y="424.30" width="3.00" height="3.00" fill="#ff00ff"/>
<path d="M303.25,437.31 L307.35,437.31 L305.30,441.00 Z" fill="#00ff00"/>
<path d="M304.60,439.10 L306.80,441.30 L304.60,443.50 L302.40,441.30 Z" fill="#00ffff"/>
</g>
<circle cx="278.60" cy="465.10" r="1.85" fill="#000000"/>
<text transform="translate(290.00,467.70) scale(0.25)" font-family='"Liberation Serif", serif' font-size="27.60" fill="#333">#0S</text>
<circle cx="278.60" cy="474.20" r="1.30" fill="#ff0000"/>
<text transform="translate(290.00,476.80) scale(0.25)" font-family='"Liberation Serif", serif' font-size="27.60" fill="#333">#1S</text>
<path d="M276.55,482.01 L280.65,482.01 L278.60,485.70 Z" fill="#00ff00"/>
<text transform="translate(290.00,485.90) scale(0.25)" font-family='"Liberation Serif", serif' font-size="27.60" fill="#333">#2S</text>
<path d="M276.55,494.04 L280.65,494.04 L278.60,490.35 Z" fill="#0000ff"/>
<text transform="translate(290.00,495.00) scale(0.25)" font-family='"Liberation Serif", serif' font-size="27.60" fill="#333">#3S</text>
<rect x="277.10" y="500.00" width="3.00" height="3.00" fill="#ff00ff"/>
<text transform="translate(290.00,504.10) scale(0.25)" font-family='"Liberation Serif", serif' font-size="27.60" fill="#333">#4S</text>
<path d="M278.60,508.40 L280.80,510.60 L278.60,512.80 L276.40,510.60 Z" fill="#00ffff"/>
<text transform="translate(290.00,513.20) scale(0.25)" font-family='"Liberation Serif", serif' font-size="27.60" fill="#333">#8S</text>
</svg></body></html>
